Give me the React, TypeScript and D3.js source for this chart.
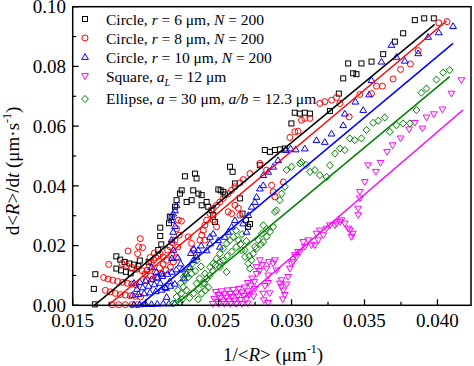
import * as d3 from 'd3';

// axis ticks
const xTicks = [0.015, 0.02, 0.025, 0.03, 0.035, 0.04];
const xMinorTicks = [0.0175, 0.0225, 0.0275, 0.0325, 0.0375];
const yTicks = [0, 0.02, 0.04, 0.06, 0.08, 0.1];
const yMinorTicks = [0.01, 0.03, 0.05, 0.07, 0.09];

// Circle, r = 6 um
const circle6 = [
  [0.01652, 0.0003], [0.01645, 0.0055], [0.01655, 0.0104],
  [0.01799, 0.0164], [0.01826, 0.0153], [0.01856, 0.0145], [0.01888, 0.014], [0.0192, 0.0136], [0.0195, 0.0131],
  [0.01799, 0.0123], [0.01831, 0.0117], [0.01865, 0.0112], [0.01897, 0.0107],
  [0.0196, 0.015], [0.02021, 0.0145],
  [0.021, 0.026], [0.021, 0.0232], [0.02107, 0.0204], [0.02086, 0.0185], [0.02166, 0.0297], [0.0216, 0.0275],
  [0.02178, 0.0296], [0.02201, 0.033], [0.02212, 0.0352], [0.02235, 0.0374], [0.02247, 0.0385],
  [0.02269, 0.0432], [0.02338, 0.0441], [0.02349, 0.0425],
  [0.02281, 0.0346], [0.02315, 0.0352], [0.02326, 0.0385], [0.02361, 0.0374], [0.02384, 0.0369],
  [0.02384, 0.0335], [0.02418, 0.0346], [0.02429, 0.033], [0.02452, 0.0318], [0.02463, 0.0302], [0.02475, 0.0279],
  [0.02498, 0.0388], [0.02514, 0.0385], [0.02532, 0.038], [0.02543, 0.0371],
  [0.02578, 0.0464], [0.02596, 0.0447], [0.02612, 0.0408], [0.02646, 0.0358], [0.02664, 0.0307],
  [0.02687, 0.0285], [0.02701, 0.0263], [0.02715, 0.0272],
  [0.02783, 0.0469], [0.02817, 0.052], [0.02852, 0.0514], [0.02886, 0.052], [0.0292, 0.0522], [0.02954, 0.0525],
  [0.02999, 0.0609], [0.03022, 0.0645], [0.03057, 0.0642], [0.03091, 0.0645], [0.03126, 0.0642],
  [0.03263, 0.0651], [0.03324, 0.0709],
  [0.03354, 0.076], [0.03388, 0.081], [0.03422, 0.0777], [0.03445, 0.0774], [0.03479, 0.081],
  [0.03548, 0.0816], [0.03628, 0.0841], [0.03708, 0.0883], [0.03765, 0.0911],
  [0.03845, 0.0955], [0.03909, 0.0961], [0.03975, 0.0961],
];

// Circle, r = 8 um
const circle8 = [
  [0.01712, 0.0093], [0.01742, 0.0088], [0.01774, 0.0084], [0.01808, 0.008], [0.01842, 0.0077], [0.01874, 0.0074],
  [0.01905, 0.0071], [0.01935, 0.0068],
  [0.01724, 0.005], [0.01758, 0.0045], [0.01792, 0.004], [0.01826, 0.0036], [0.01861, 0.0034],
  [0.01895, 0.0032], [0.0193, 0.003], [0.01965, 0.0028],
  [0.01769, 0.0002], [0.01815, 0.0002], [0.01861, 0.0002], [0.01905, 0.0002], [0.01945, 0.0002],
  [0.01747, 0.0137], [0.01838, 0.014], [0.0187, 0.0133], [0.01905, 0.0127], [0.0194, 0.0121], [0.01975, 0.0116],
  [0.01879, 0.0182], [0.01963, 0.0223], [0.01952, 0.0196], [0.01979, 0.0193], [0.01945, 0.0173],
  [0.01995, 0.0105], [0.0201, 0.0118], [0.02025, 0.013], [0.0204, 0.0142], [0.02055, 0.0152],
  [0.0207, 0.016], [0.02085, 0.0165], [0.021, 0.0172], [0.02035, 0.0098], [0.02065, 0.011],
  [0.02095, 0.0125], [0.0212, 0.0138], [0.02121, 0.0162], [0.02144, 0.0151], [0.02167, 0.0196],
  [0.02005, 0.0085], [0.0205, 0.0088], [0.0208, 0.0095], [0.0211, 0.0105], [0.0214, 0.0118],
  [0.0217, 0.0128], [0.0219, 0.0145], [0.0221, 0.016], [0.0222, 0.0195], [0.0223, 0.0235],
  [0.0215, 0.0185], [0.0206, 0.0175], [0.0203, 0.016], [0.0218, 0.021],
  [0.02178, 0.0168], [0.02201, 0.0218], [0.02212, 0.0257], [0.02224, 0.0285], [0.02245, 0.0282],
  [0.02292, 0.0229], [0.02315, 0.0207], [0.02326, 0.0184], [0.02349, 0.0168], [0.02372, 0.0218],
  [0.02384, 0.0235], [0.02395, 0.0251], [0.02406, 0.0268], [0.02418, 0.0285], [0.02441, 0.0307],
  [0.02463, 0.0324], [0.02486, 0.0335], [0.02509, 0.0346], [0.02532, 0.0358], [0.02566, 0.0374],
  [0.02589, 0.0385], [0.02612, 0.0397], [0.02646, 0.041], [0.02669, 0.0421], [0.02715, 0.0441],
  [0.02406, 0.0218], [0.02463, 0.0285], [0.02486, 0.0263], [0.02566, 0.0313], [0.02589, 0.0307],
  [0.02612, 0.0335], [0.02635, 0.0325], [0.02646, 0.0302],
  [0.02783, 0.0475], [0.02829, 0.0453], [0.02863, 0.0402], [0.02874, 0.038], [0.02886, 0.0363], [0.02943, 0.0413],
  [0.02989, 0.0562], [0.03022, 0.0581], [0.03045, 0.0583], [0.03068, 0.062], [0.03091, 0.0626],
  [0.03126, 0.0626], [0.03194, 0.0676], [0.03228, 0.0682], [0.03274, 0.0687], [0.03308, 0.0696],
  [0.03331, 0.0676], [0.03395, 0.0631],
  [0.03468, 0.0706], [0.03548, 0.0709], [0.03582, 0.0734], [0.03623, 0.0734], [0.03696, 0.0758],
  [0.03747, 0.079], [0.03815, 0.0808], [0.03868, 0.0853], [0.04009, 0.0946], [0.04066, 0.095],
];

// Circle, r = 10 um
const circle10 = [
  [0.0192, 0.0003], [0.0196, 0.0003], [0.02, 0.0004], [0.0204, 0.0004], [0.0208, 0.0005], [0.0212, 0.0006],
  [0.0216, 0.0006], [0.022, 0.0007],
  [0.0191, 0.0035], [0.0195, 0.0037], [0.0199, 0.004], [0.0203, 0.0043], [0.0207, 0.0047], [0.0211, 0.0052], [0.0214, 0.0058],
  [0.0217, 0.0065], [0.022, 0.0072],
  [0.0192, 0.0075], [0.0196, 0.0078], [0.02, 0.0082], [0.0204, 0.0087], [0.0208, 0.0092], [0.02115, 0.0098], [0.0215, 0.0105],
  [0.0218, 0.0112], [0.0221, 0.012],
  [0.0194, 0.0055], [0.0198, 0.006], [0.0202, 0.0065], [0.0206, 0.007], [0.021, 0.0075],
  [0.02041, 0.0128], [0.02075, 0.0112], [0.0211, 0.0106], [0.02132, 0.0061], [0.02144, 0.0028], [0.02165, 0.008],
  [0.0219, 0.0185], [0.0222, 0.016], [0.0224, 0.014], [0.0225, 0.012], [0.0218, 0.0158],
  [0.02178, 0.0285], [0.02189, 0.0307], [0.02201, 0.0318], [0.02212, 0.0335], [0.02189, 0.0246], [0.02201, 0.0265], [0.02178, 0.022],
  [0.02281, 0.0106], [0.02304, 0.0128], [0.02326, 0.0151], [0.02349, 0.0162], [0.0226, 0.009],
  [0.0231, 0.0175], [0.0236, 0.0185], [0.0238, 0.02], [0.0233, 0.019],
  [0.02418, 0.0184], [0.02441, 0.0207], [0.02441, 0.0229], [0.02463, 0.024], [0.02498, 0.0218],
  [0.02509, 0.0196], [0.02543, 0.0229], [0.02566, 0.0246], [0.02589, 0.0263], [0.02612, 0.0285],
  [0.02669, 0.0274], [0.02692, 0.0246], [0.02704, 0.0302], [0.02727, 0.033], [0.02749, 0.0346],
  [0.0276, 0.0363], [0.02783, 0.0391], [0.02806, 0.0402],
  [0.02806, 0.0436], [0.0284, 0.0447], [0.02874, 0.0464], [0.02908, 0.0486], [0.0296, 0.052],
  [0.02994, 0.0525], [0.03028, 0.0522], [0.03091, 0.0525], [0.03171, 0.0553], [0.03228, 0.0547],
  [0.03274, 0.0575], [0.03354, 0.0603], [0.03365, 0.0642], [0.03438, 0.0682],
  [0.03491, 0.0654], [0.03532, 0.0706], [0.03548, 0.0754], [0.03616, 0.0816], [0.03685, 0.0872],
  [0.03719, 0.0832], [0.03776, 0.0819], [0.03868, 0.0844], [0.03936, 0.0899], [0.04009, 0.0914], [0.04107, 0.0935],
];

// Square, aL = 12 um
const square12 = [
  [0.0246, 0.0005], [0.025, 0.0005], [0.0254, 0.0005], [0.0258, 0.0005], [0.0262, 0.0005], [0.0266, 0.0005], [0.027, 0.0006],
  [0.0249, 0.0012], [0.0253, 0.0013], [0.0257, 0.0014], [0.0261, 0.0016], [0.0265, 0.0018], [0.0269, 0.002],
  [0.0247, 0.0022], [0.0251, 0.0024], [0.0255, 0.0026], [0.0259, 0.0028], [0.0263, 0.003], [0.0267, 0.0032], [0.0271, 0.0036], [0.0274, 0.003],
  [0.025, 0.0035], [0.0254, 0.0037], [0.0258, 0.0038], [0.0262, 0.004], [0.0266, 0.0043], [0.027, 0.0047], [0.0275, 0.0055],
  [0.0248, 0.0045], [0.0252, 0.0047], [0.0256, 0.005], [0.026, 0.0052], [0.0264, 0.0055], [0.0268, 0.006], [0.0272, 0.0066], [0.02745, 0.0078], [0.027, 0.0075],
  [0.0273, 0.009], [0.0276, 0.0105], [0.0278, 0.0115], [0.028, 0.0135],
  [0.0276, 0.0128], [0.02783, 0.0151], [0.02806, 0.0039], [0.0281, 0.0017], [0.02817, 0.0065], [0.02829, 0.0123],
  [0.0284, 0.01], [0.0284, 0.0075], [0.0285, 0.004], [0.0284, 0.0008], [0.0294, 0.002], [0.0293, 0.0062],
  [0.02845, 0.0145], [0.02874, 0.014], [0.02886, 0.0151], [0.02897, 0.0117], [0.0292, 0.0073], [0.02932, 0.0084],
  [0.02943, 0.005], [0.02954, 0.0035], [0.02966, 0.007], [0.02977, 0.0095], [0.02989, 0.0123], [0.03, 0.014],
  [0.03011, 0.0145], [0.03022, 0.0168], [0.03034, 0.0162], [0.03045, 0.0179], [0.03057, 0.0179], [0.0308, 0.0212],
  [0.03091, 0.0196], [0.03114, 0.0218], [0.03137, 0.0201], [0.0316, 0.0201], [0.03171, 0.024], [0.03183, 0.0218],
  [0.03194, 0.0251], [0.03217, 0.0235], [0.0324, 0.0257], [0.03263, 0.0268], [0.03297, 0.0268], [0.03308, 0.0274],
  [0.03331, 0.0279], [0.03342, 0.0285], [0.03365, 0.0274], [0.03388, 0.0257], [0.034, 0.0251], [0.03411, 0.0229], [0.0342, 0.024],
  [0.03457, 0.0302], [0.03457, 0.0324], [0.03468, 0.0358], [0.03468, 0.038], [0.03502, 0.0413],
  [0.03525, 0.0469], [0.03578, 0.0447], [0.0361, 0.0477], [0.03655, 0.0514], [0.03692, 0.0536],
  [0.03747, 0.0559], [0.03806, 0.0589], [0.03845, 0.0611], [0.03897, 0.0592], [0.03925, 0.0629],
  [0.03975, 0.064], [0.04034, 0.0656], [0.04096, 0.0709], [0.04164, 0.0754],
];

// Ellipse, a = 30 um
const ellipse30 = [
  [0.02189, 0.0006], [0.02212, 0.0028], [0.02235, 0.001], [0.02258, 0.0061], [0.02269, 0.0084], [0.02292, 0.0095],
  [0.02315, 0.0106], [0.02349, 0.0073], [0.02365, 0.0055], [0.02384, 0.0039], [0.02395, 0.0073], [0.02406, 0.0106],
  [0.02245, 0.004], [0.0228, 0.005], [0.023, 0.0025], [0.0233, 0.004], [0.0236, 0.002], [0.0225, 0.002], [0.0242, 0.009], [0.0243, 0.006],
  [0.0224, 0.0075], [0.0227, 0.011], [0.0229, 0.0125], [0.0232, 0.014], [0.0235, 0.015], [0.0238, 0.013],
  [0.0226, 0.0095], [0.0222, 0.005], [0.024, 0.0075], [0.0237, 0.009], [0.0234, 0.0115], [0.0241, 0.005],
  [0.0244, 0.01], [0.0246, 0.0115], [0.0248, 0.0135], [0.0251, 0.0145],
  [0.02441, 0.0128], [0.02463, 0.014], [0.02486, 0.0156], [0.02509, 0.0173], [0.02532, 0.019], [0.02555, 0.0207],
  [0.02578, 0.0218], [0.026, 0.0229], [0.02509, 0.0128], [0.02555, 0.0112], [0.0253, 0.015], [0.0256, 0.0165], [0.0259, 0.018],
  [0.0262, 0.0195], [0.0265, 0.0205], [0.0268, 0.0185], [0.0271, 0.0165], [0.0262, 0.025], [0.0266, 0.0238], [0.0269, 0.0215],
  [0.0276, 0.019], [0.0279, 0.0205], [0.0283, 0.023],
  [0.02635, 0.0218], [0.02658, 0.0184], [0.02681, 0.0162], [0.02703, 0.014], [0.02715, 0.0123], [0.02726, 0.0151],
  [0.02737, 0.0173], [0.02749, 0.0196], [0.02772, 0.0218], [0.02795, 0.024], [0.02806, 0.0268], [0.0283, 0.0255],
  [0.02806, 0.0212], [0.02852, 0.0246], [0.02874, 0.0263], [0.02886, 0.0313], [0.02897, 0.0318], [0.0292, 0.0352],
  [0.02932, 0.0374], [0.02954, 0.0397], [0.02966, 0.0453], [0.03, 0.0464], [0.03057, 0.0475], [0.03068, 0.048],
  [0.031, 0.047], [0.03126, 0.0447], [0.0316, 0.0453], [0.03194, 0.0436], [0.0324, 0.043], [0.03263, 0.0469],
  [0.03297, 0.0508], [0.03331, 0.0525], [0.03365, 0.052], [0.03399, 0.0559], [0.03433, 0.0553], [0.03513, 0.0587],
  [0.03479, 0.0559], [0.03559, 0.0611], [0.03594, 0.0618], [0.03639, 0.0629], [0.03674, 0.0581], [0.03719, 0.0603],
  [0.03765, 0.0609], [0.03811, 0.0609], [0.03856, 0.0654], [0.0389, 0.0712], [0.03925, 0.0726], [0.03993, 0.0756],
  [0.04039, 0.0779], [0.04084, 0.0788],
];

// linear fits: [x0, y0, x1, y1]
const fitCircle6 = [0.01648, 0, 0.03981, 0.0941];
const fitCircle8 = [0.01744, 0, 0.04062, 0.0952];
const fitCircle10 = [0.0196, 0, 0.04107, 0.0877];
const fitSquare12 = [0.0268, 0.0027, 0.04175, 0.0654];
const fitEllipse30 = [0.0222, 0.0008, 0.04084, 0.0766];

const series = [
  { data: circle6, fit: fitCircle6, color: '#000000', shape: 'square' },
  { data: circle8, fit: fitCircle8, color: '#ff0000', shape: 'circle' },
  { data: circle10, fit: fitCircle10, color: '#0000ff', shape: 'up' },
  { data: square12, fit: fitSquare12, color: '#ff00ff', shape: 'down' },
  { data: ellipse30, fit: fitEllipse30, color: '#008000', shape: 'diamond' },
];

const font = '"Liberation Serif", "Times New Roman", serif';

function Marker({ shape, cx, cy, color }: { shape: string; cx: number; cy: number; color: string }) {
  const common = { fill: 'none', stroke: color, strokeWidth: 1 };
  if (shape === 'square') return <rect x={cx - 2.5} y={cy - 2.5} width={5} height={5} {...common} />;
  if (shape === 'circle') return <circle cx={cx} cy={cy} r={3} {...common} />;
  if (shape === 'up')
    return <path d={`M${cx},${cy - 3.3}L${cx + 3.4},${cy + 2.4}L${cx - 3.4},${cy + 2.4}Z`} {...common} />;
  if (shape === 'down')
    return <path d={`M${cx},${cy + 3.3}L${cx + 3.4},${cy - 2.4}L${cx - 3.4},${cy - 2.4}Z`} {...common} />;
  return <path d={`M${cx},${cy - 3.6}L${cx + 3.4},${cy}L${cx},${cy + 3.6}L${cx - 3.4},${cy}Z`} {...common} />;
}

export default function App() {
  const width = 474;
  const height = 366;
  const x = d3.scaleLinear().domain([0.015, 0.0423]).range([72.7, 471]);
  const y = d3.scaleLinear().domain([0, 0.1]).range([305.3, 6.7]);
  const [x0, x1] = x.range();
  const [yb, yt] = y.range();

  const legendRows = [
    { y: 19, baseline: 25, shape: 'square', color: '#000000' },
    { y: 38, baseline: 43.5, shape: 'circle', color: '#ff0000' },
    { y: 57, baseline: 62.5, shape: 'up', color: '#0000ff' },
    { y: 76, baseline: 81.5, shape: 'down', color: '#ff00ff' },
    { y: 99, baseline: 104, shape: 'diamond', color: '#008000' },
  ];

  return (
    <svg
      width={width}
      height={height}
      style={{ position: 'absolute', left: 0, top: 0, background: '#fff', fontFamily: font }}
    >
      {/* data points */}
      {series.map((s, i) => (
        <g key={i}>
          {s.data.map((d, j) => (
            <Marker key={j} shape={s.shape} cx={x(d[0])} cy={y(d[1])} color={s.color} />
          ))}
        </g>
      ))}
      {/* fit lines */}
      {series.map((s, i) => (
        <line
          key={i}
          x1={x(s.fit[0])}
          y1={y(s.fit[1])}
          x2={x(s.fit[2])}
          y2={y(s.fit[3])}
          stroke={s.color}
          strokeWidth={1.5}
        />
      ))}

      {/* frame */}
      <rect x={x0} y={yt} width={x1 - x0} height={yb - yt} fill="none" stroke="#000" strokeWidth={1.5} />

      {/* x ticks */}
      {xTicks.map((t) => (
        <g key={t}>
          <line x1={x(t)} x2={x(t)} y1={yb} y2={yb - 6} stroke="#000" strokeWidth={1.3} />
          <text x={x(t)} y={327} fontSize={19} textAnchor="middle">
            {d3.format('.3f')(t)}
          </text>
        </g>
      ))}
      {xMinorTicks.map((t) => (
        <line key={t} x1={x(t)} x2={x(t)} y1={yb} y2={yb - 3.5} stroke="#000" strokeWidth={1.2} />
      ))}

      {/* y ticks */}
      {yTicks.map((t) => (
        <g key={t}>
          <line x1={x0} x2={x0 + 6} y1={y(t)} y2={y(t)} stroke="#000" strokeWidth={1.3} />
          <text x={66} y={y(t)} dy="0.35em" fontSize={19} textAnchor="end">
            {d3.format('.2f')(t)}
          </text>
        </g>
      ))}
      {yMinorTicks.map((t) => (
        <line key={t} x1={x0} x2={x0 + 3.5} y1={y(t)} y2={y(t)} stroke="#000" strokeWidth={1.2} />
      ))}

      {/* axis titles */}
      <text x={273} y={361} fontSize={19} textAnchor="middle">
        1/&lt;<tspan fontStyle="italic">R</tspan>&gt; (μm
        <tspan fontSize={12} dy={-8}>-1</tspan>
        <tspan dy={8}>)</tspan>
      </text>
      <text transform="translate(19,171) rotate(-90)" fontSize={19} textAnchor="middle">
        d&lt;<tspan fontStyle="italic">R</tspan>&gt;/d<tspan fontStyle="italic">t</tspan> (μm·s
        <tspan fontSize={12} dy={-8}>-1</tspan>
        <tspan dy={8}>)</tspan>
      </text>

      {/* legend */}
      {legendRows.map((r, i) => (
        <Marker key={i} shape={r.shape} cx={85} cy={r.y} color={r.color} />
      ))}
      <g fontSize={15.5}>
        <text x={106} y={legendRows[0].baseline}>
          Circle, <tspan fontStyle="italic">r</tspan> = 6 μm, <tspan fontStyle="italic">N</tspan> = 200
        </text>
        <text x={106} y={legendRows[1].baseline}>
          Circle, <tspan fontStyle="italic">r</tspan> = 8 μm, <tspan fontStyle="italic">N</tspan> = 200
        </text>
        <text x={106} y={legendRows[2].baseline}>
          Circle, <tspan fontStyle="italic">r</tspan> = 10 μm, <tspan fontStyle="italic">N</tspan> = 200
        </text>
        <text x={106} y={legendRows[3].baseline}>
          Square, <tspan fontStyle="italic">a</tspan>
          <tspan fontStyle="italic" fontSize={10} dy={4}>L</tspan>
          <tspan dy={-4}> = 12 μm</tspan>
        </text>
        <text x={106} y={legendRows[4].baseline}>
          Ellipse, <tspan fontStyle="italic">a</tspan> = 30 μm, <tspan fontStyle="italic">a/b</tspan> = 12.3 μm
        </text>
      </g>
    </svg>
  );
}
